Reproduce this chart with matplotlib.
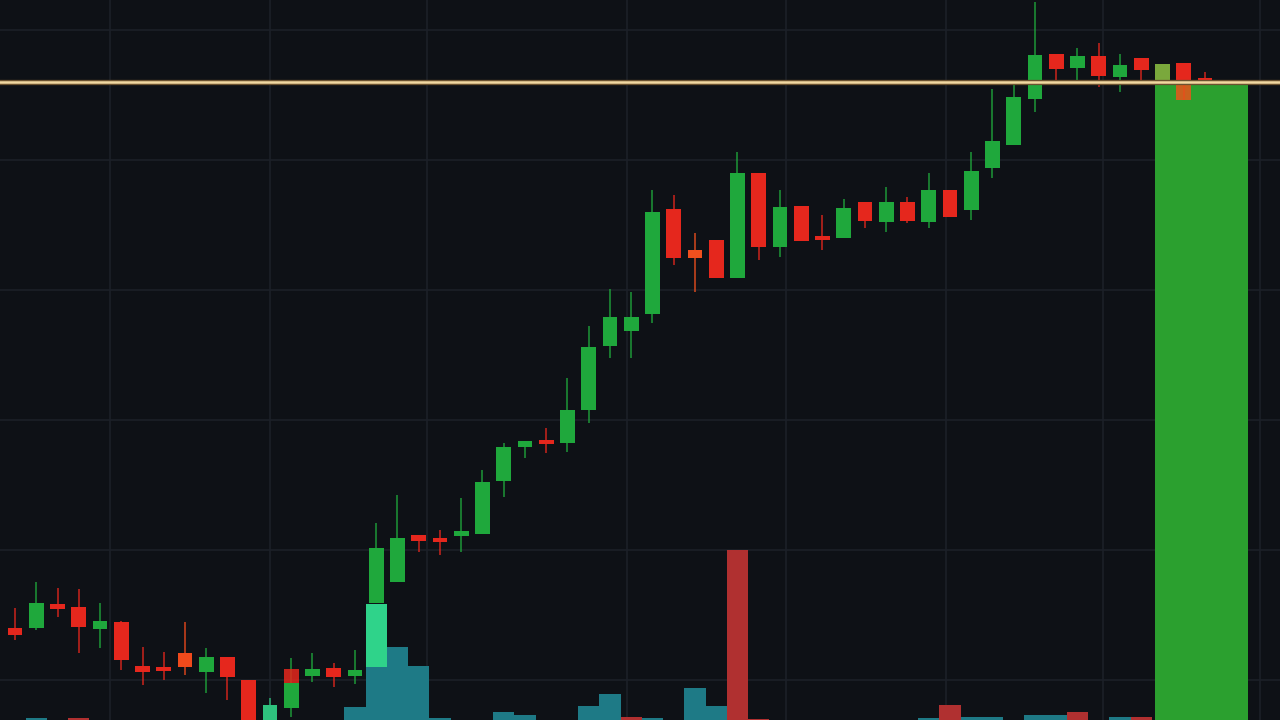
import matplotlib
matplotlib.use('Agg')
import matplotlib.pyplot as plt
import matplotlib.transforms as mtrans
import numpy as np

# candles (price units are arbitrary)
opens = [2.46, 2.46, 2.58, 2.565, 2.455, 2.49, 2.27, 2.265, 2.335, 2.24,
         2.315, 2.20, 1.975, 2.06, 2.22, 2.26, 2.22, 2.585, 2.69, 2.925,
         2.91, 2.92, 2.93, 3.195, 3.365, 3.40, 3.385, 3.55, 3.87, 3.945,
         4.03, 4.555, 4.35, 4.40, 4.21, 4.735, 4.365, 4.57, 4.42, 4.41,
         4.59, 4.49, 4.59, 4.49, 4.65, 4.55, 4.76, 4.875, 5.105, 5.33,
         5.26, 5.32, 5.215, 5.31, 5.20, 5.285, 5.205]
highs = [2.56, 2.69, 2.66, 2.655, 2.585, 2.495, 2.365, 2.34, 2.49, 2.36,
         2.315, 2.20, 2.11, 2.31, 2.335, 2.285, 2.35, 2.985, 3.125, 2.925,
         2.95, 3.11, 3.25, 3.385, 3.395, 3.46, 3.71, 3.97, 4.155, 4.14,
         4.65, 4.625, 4.435, 4.40, 4.84, 4.735, 4.65, 4.57, 4.525, 4.605,
         4.59, 4.665, 4.615, 4.735, 4.65, 4.84, 5.155, 5.185, 5.59, 5.33,
         5.36, 5.385, 5.33, 5.31, 5.28, 5.285, 5.24]
lows = [2.40, 2.45, 2.515, 2.335, 2.36, 2.25, 2.175, 2.20, 2.225, 2.135,
        2.10, 1.95, 1.95, 2.015, 2.19, 2.165, 2.18, 2.585, 2.69, 2.84,
        2.825, 2.84, 2.93, 3.115, 3.31, 3.335, 3.34, 3.485, 3.81, 3.81,
        3.985, 4.275, 4.14, 4.21, 4.21, 4.30, 4.315, 4.395, 4.35, 4.41,
        4.46, 4.44, 4.485, 4.46, 4.515, 4.50, 4.71, 4.875, 5.04, 5.20,
        5.19, 5.165, 5.14, 5.20, 5.20, 5.10, 5.19]
closes = [2.425, 2.585, 2.555, 2.465, 2.495, 2.30, 2.24, 2.245, 2.265, 2.315,
          2.215, 1.975, 2.075, 2.185, 2.255, 2.215, 2.25, 2.86, 2.91, 2.895,
          2.89, 2.945, 3.19, 3.365, 3.395, 3.38, 3.55, 3.865, 4.015, 4.015,
          4.54, 4.31, 4.31, 4.21, 4.735, 4.365, 4.565, 4.395, 4.40, 4.56,
          4.495, 4.59, 4.495, 4.65, 4.515, 4.745, 4.895, 5.115, 5.325, 5.255,
          5.32, 5.22, 5.275, 5.25, 5.28, 5.20, 5.20]

# a few candles look tinted in the video frame
tint = {8: '#f04a1c', 12: '#2ec27e', 32: '#f0501e', 54: '#7aa83c'}

# leftover frames of the video blend: (index, bottom, top, colour)
ghosts = [(13, 2.185, 2.255, '#e5271d'), (55, 5.10, 5.20, '#e8551c')]

# volume (thousands)
vol_idx = [1, 3, 16, 17, 18, 19, 20, 23, 24, 27, 28, 29, 30, 32, 33, 34, 35,
           43, 44, 45, 46, 48, 49, 50, 52, 53]
vol_k = [2, 2, 13, 53, 73, 54, 2, 8, 5, 14, 26, 3, 2, 32, 14, 170, 1,
         2, 15, 3, 3, 5, 5, 8, 3, 3]
vol_up = [1, 0, 1, 1, 1, 1, 1, 1, 1, 1, 1, 0, 1, 1, 1, 0, 0,
          1, 0, 1, 1, 1, 1, 0, 1, 0]
flash_idx = [17]
flash_k = [63]

level = 5.19          # horizontal price line
box_start, box_end = 53.65, 58.02   # green position box (in candle index)

time_grid = [4.47, 12.0, 19.39, 28.8, 36.28, 43.81, 51.2, 58.59]
price_grid = [2.20, 2.85, 3.50, 4.15, 4.80, 5.45]

bg = '#0e1116'
up_c, down_c = '#1fa83c', '#e5271d'

fig = plt.figure(figsize=(12.8, 7.2), dpi=100, facecolor=bg)
vax = fig.add_axes([0, 0, 1, 1])
ax = vax.twinx()
vax.set_facecolor(bg)
ax.patch.set_visible(False)

x = np.arange(len(opens))
xlim = (-0.706, 59.53)
ylim = (2.00, 5.60)
ax.set_xlim(xlim)
ax.set_ylim(ylim)
vax.set_xlim(xlim)
vax.set_ylim(0, 720)

# grid, kept on the bottom axes so it stays behind the volume
for g in time_grid:
    vax.axvline(g, color='#1c2028', lw=1.2, zorder=0)
hgrid = mtrans.blended_transform_factory(vax.transAxes, ax.transData)
for g in price_grid:
    vax.plot([0, 1], [g, g], color='#1c2028', lw=1.2, zorder=0, transform=hgrid)

# volume
vcol = ['#1e7a86' if u else '#b03030' for u in vol_up]
vax.bar(vol_idx, vol_k, width=1.0, color=vcol, zorder=2)
vax.bar(flash_idx, flash_k, bottom=[vol_k[vol_idx.index(i)] for i in flash_idx],
        width=1.0, color='#2fd38a', zorder=2)

# green box under the line
ax.fill_between([box_start, box_end], ylim[0] - 1, level, color='#2ba02f', zorder=1, lw=0)

# candles
o = np.array(opens); c = np.array(closes)
cols = [up_c if cc >= oo else down_c for oo, cc in zip(o, c)]
cols = [tint.get(i, col) for i, col in enumerate(cols)]
ax.vlines(x, lows, highs, colors=cols, lw=1.3, alpha=0.75, zorder=3)
ax.bar(x, np.maximum(np.abs(c - o), 0.012), bottom=np.minimum(o, c), width=0.7,
       color=cols, zorder=4)
for i, b, t, col in ghosts:
    ax.bar(i, t - b, bottom=b, width=0.7, color=col, alpha=0.85, zorder=4)

# price line
ax.axhline(level, color='#6b5230', lw=3.8, zorder=5)
ax.axhline(level, color='#f2d9a2', lw=1.8, zorder=6)

for a in (ax, vax):
    a.set_xticks([]); a.set_yticks([])
    for s in a.spines.values():
        s.set_visible(False)

fig.savefig('out.png', dpi=100, facecolor=bg)
